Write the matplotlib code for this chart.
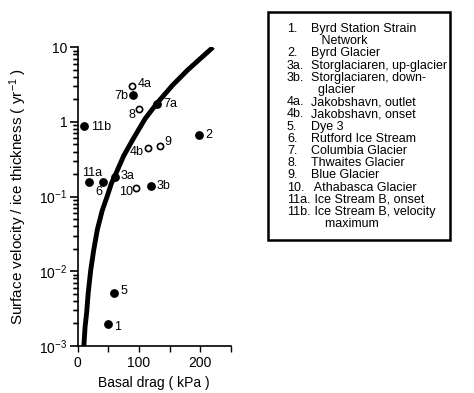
import matplotlib
matplotlib.use("Agg")
import matplotlib.pyplot as plt
from matplotlib.patches import Rectangle
from matplotlib.ticker import FixedLocator, FixedFormatter, NullFormatter

plt.rcParams['font.family'] = ['Liberation Sans', 'DejaVu Sans']
plt.rcParams['mathtext.fontset'] = 'custom'
plt.rcParams['mathtext.rm'] = 'Liberation Sans'
plt.rcParams['mathtext.it'] = 'Liberation Sans'

# ---- data ----
filled_labels = ['1', '2', '3a', '3b', '5', '6', '7a', '7b', '11a', '11b']
filled_drag = [49, 198, 61, 120, 60, 42, 130, 91, 18, 11]
filled_rate = [0.00196, 0.67, 0.185, 0.14, 0.0051, 0.158, 1.74, 2.3, 0.158, 0.89]

open_labels = ['4a', '4b', '8', '9', '10']
open_drag = [89, 114, 100, 135, 95]
open_rate = [3.0, 0.45, 1.5, 0.48, 0.13]

curve_drag = [10, 12, 14.6, 17, 21, 26, 32, 40, 48, 55, 62, 75, 91, 110, 130, 155, 179, 200, 221]
curve_rate = [0.001, 0.0018, 0.0028, 0.005, 0.01, 0.019, 0.036, 0.065, 0.1, 0.15,
              0.2, 0.35, 0.6, 1.1, 1.8, 3.1, 4.9, 7.0, 10.0]

x_ticks = [0, 100, 200]
x_ticklabels = ['0', '100', '200']
x_minor = [50, 150, 250]
y_ticks = [1e-3, 1e-2, 1e-1, 1, 10]
y_ticklabels = ['10$^{-3}$', '10$^{-2}$', '10$^{-1}$', '1', '10']
y_minor = [m * d for d in [1e-3, 1e-2, 1e-1, 1] for m in range(2, 10)]

legend_lines = [
    ('1.', 'Byrd Station Strain'),
    ('', '   Network'),
    ('2.', 'Byrd Glacier'),
    ('3a.', 'Storglaciaren, up-glacier'),
    ('3b.', 'Storglaciaren, down-'),
    ('', '  glacier'),
    ('4a.', 'Jakobshavn, outlet'),
    ('4b.', 'Jakobshavn, onset'),
    ('5.', 'Dye 3'),
    ('6.', 'Rutford Ice Stream'),
    ('7.', 'Columbia Glacier'),
    ('8.', 'Thwaites Glacier'),
    ('9.', 'Blue Glacier'),
    ('10.', ' Athabasca Glacier'),
    ('11a.', ' Ice Stream B, onset'),
    ('11b.', ' Ice Stream B, velocity'),
    ('', '    maximum'),
]

# label offsets in pixels (dx, dy, ha)
label_offsets = {
    '1': (6, -3, 'left'), '2': (6, 0, 'left'), '3a': (5, 1, 'left'),
    '3b': (5, 0, 'left'), '5': (6, 2, 'left'), '6': (-1, -10, 'right'),
    '7a': (6, 0, 'left'), '7b': (-5, -1, 'right'), '11a': (-7, 9, 'left'),
    '11b': (7, -1, 'left'), '4a': (5, 2, 'left'), '4b': (-4, -4, 'right'),
    '8': (-4, -6, 'right'), '9': (4, 4, 'left'), '10': (-3, -4, 'right'),
}

fig = plt.figure(figsize=(4.74, 3.93), dpi=100)
ax = fig.add_axes([0.164, 0.120, 0.323, 0.760])

ax.plot(curve_drag, curve_rate, color='black', lw=3.5, solid_capstyle='butt', zorder=2)
ax.scatter(filled_drag, filled_rate, s=28, color='black', zorder=3)
ax.scatter(open_drag, open_rate, s=20, facecolor='white', edgecolor='black', lw=1.2, zorder=3)

for lab, x, y in list(zip(filled_labels, filled_drag, filled_rate)) + list(zip(open_labels, open_drag, open_rate)):
    dx, dy, ha = label_offsets[lab]
    ax.annotate(lab, (x, y), xytext=(dx, dy), textcoords='offset pixels',
                ha=ha, va='center', fontsize=9)

ax.set_yscale('log')
ax.set_xlim(0, 250)
ax.set_ylim(1e-3, 10)
ax.spines['top'].set_visible(False)
ax.spines['right'].set_visible(False)
ax.spines['left'].set_linewidth(1.2)
ax.spines['bottom'].set_linewidth(1.2)
ax.set_xticks(x_ticks)
ax.set_xticklabels(x_ticklabels, fontsize=10)
ax.set_xticks(x_minor, minor=True)
ax.tick_params(axis='x', which='both', direction='out', length=4, width=1)

ax.yaxis.set_major_locator(FixedLocator(y_ticks))
ax.yaxis.set_major_formatter(FixedFormatter(y_ticklabels))
ax.yaxis.set_minor_locator(FixedLocator(y_minor))
ax.yaxis.set_minor_formatter(NullFormatter())
ax.tick_params(axis='y', which='major', direction='out', length=5.5, width=1.2, pad=2, labelsize=10)
ax.tick_params(axis='y', which='minor', direction='out', length=3.5, width=1.0)

# intermediate y tick marks, drawn explicitly at the minor tick values
ytrans = ax.get_yaxis_transform()
for v in y_minor:
    ax.plot([-0.028, 0], [v, v], transform=ytrans, clip_on=False,
            color='black', lw=1.0, solid_capstyle='butt', zorder=5)

ax.set_xlabel('Basal drag ( kPa )', fontsize=10)
ax.set_ylabel('Surface velocity / ice thickness ( yr$^{-1}$ )', fontsize=11, labelpad=7)

# legend box
W, H = 474, 393
fig.patches.append(Rectangle((268 / W, 1 - 240 / H), (450 - 268) / W, (240 - 12) / H,
                             transform=fig.transFigure, fill=False, lw=1.8, edgecolor='black'))
y0 = 29
for i, (num, txt) in enumerate(legend_lines):
    yy = 1 - (y0 + i * 12.2) / H
    if num:
        fig.text(287 / W, yy, num, fontsize=9, va='center', ha='left')
    fig.text(311 / W, yy, txt, fontsize=9, va='center', ha='left')

fig.savefig('out.png', dpi=100)
